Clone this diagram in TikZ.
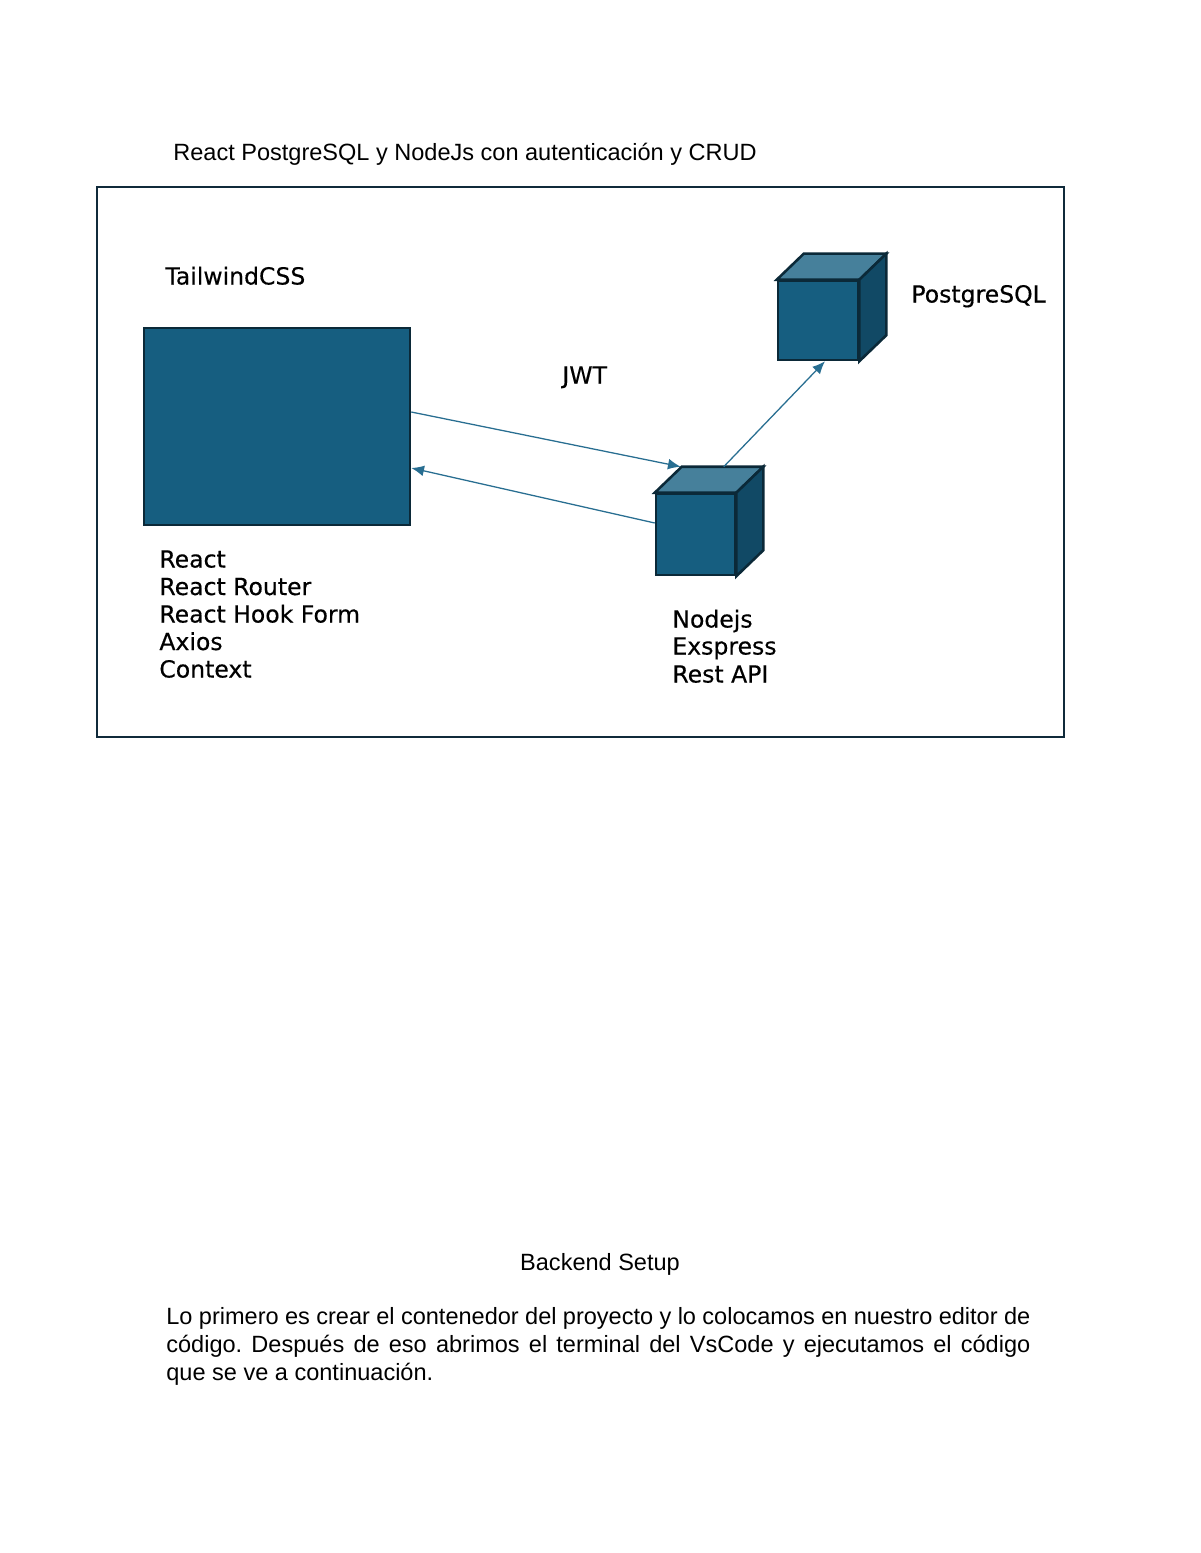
\documentclass[tikz,border=0pt]{standalone}
\usepackage{fontspec}
\setmainfont{Liberation Sans}
\newfontfamily\lblfont[FakeBold=0.35]{DejaVu Sans}
\usetikzlibrary{arrows.meta,calc}
\frenchspacing
\definecolor{facec}{RGB}{22,94,128}
\definecolor{topc}{RGB}{70,128,155}
\definecolor{sidec}{RGB}{17,73,101}
\definecolor{edgec}{RGB}{11,41,56}
\definecolor{framec}{RGB}{16,42,58}
\definecolor{arrowc}{RGB}{40,110,145}
\tikzset{
  framebox/.style={draw=framec,line width=1pt,inner sep=0pt,minimum width=493.17pt,minimum height=280.5pt},
  solidface/.style={draw=edgec,fill=facec,line width=1.3pt,inner sep=0pt},
  topface/.style={draw=edgec,fill=topc,line width=1.3pt,line join=miter},
  sideface/.style={draw=edgec,fill=sidec,line width=1.3pt,line join=miter},
  conn/.style={draw=arrowc,line width=0.65pt,-{Latex[length=6.5pt,width=5.5pt]}},
  lbl/.style={inner sep=0pt,anchor=base west,font=\lblfont\fontsize{12}{14}\selectfont},
  doc/.style={inner sep=0pt,font=\fontsize{12}{14.3}\selectfont}
}
\begin{document}
\begin{tikzpicture}[x=0.51pt,y=-0.51pt]
\useasboundingbox (0,0) rectangle (1200,1553);
\fill[white] (0,0) rectangle (1200,1553);

\node[doc,anchor=base west] (title) at (173,161) {React PostgreSQL y NodeJs con autenticación y CRUD};

\node[framebox] (frame) at (580.5,462) {};

% React block
\node[solidface,minimum width=135.66pt,minimum height=100.47pt] (react) at (277,426.5) {};

% Node cube
\node[solidface,minimum width=40.29pt,minimum height=41.31pt] (nodejs) at (695.5,534.5) {};
\draw[topface] (nodejs.north west) -- ($(nodejs.north west)+(27,-26)$) -- ($(nodejs.north east)+(27,-26)$) -- (nodejs.north east) -- cycle;
\draw[sideface] (nodejs.north east) -- ($(nodejs.north east)+(27,-26)$) -- ($(nodejs.south east)+(27,-26)$) -- (nodejs.south east) -- cycle;

% Postgres cube
\node[solidface,minimum width=40.8pt,minimum height=40.29pt] (pg) at (818,320.5) {};
\draw[topface] (pg.north west) -- ($(pg.north west)+(27,-26)$) -- ($(pg.north east)+(27,-26)$) -- (pg.north east) -- cycle;
\draw[sideface] (pg.north east) -- ($(pg.north east)+(27,-26)$) -- ($(pg.south east)+(27,-26)$) -- (pg.south east) -- cycle;

% connector end points
\coordinate (r1) at ($(react.east)+(0,-14.5)$);
\coordinate (r2) at ($(react.east)+(0,41.5)$);
\coordinate (n1) at ($(nodejs.north west)+(26,-26)$);
\coordinate (n2) at ($(nodejs.west)+(0,-11.5)$);
\coordinate (n3) at ($(nodejs.north west)+(69,-26)$);
\coordinate (p1) at ($(pg.south)+(7,0)$);

\draw[conn] (r1) -- (n1);
\draw[conn] (n2) -- (r2);
\draw[conn] (n3) -- (p1);

% labels
\node[lbl] (tw) at (165,284.5) {TailwindCSS};
\node[lbl] (jwt) at (562,383.5) {JWT};
\node[lbl] (pglbl) at (911,302.5) {PostgreSQL};

\node[lbl] (l1) at (159,567.5) {React};
\node[lbl] (l2) at (159,595) {React Router};
\node[lbl] (l3) at (159,622.5) {React Hook Form};
\node[lbl] (l4) at (159,650) {Axios};
\node[lbl] (l5) at (159,677.5) {Context};

\node[lbl] (m1) at (672,627.5) {Nodejs};
\node[lbl] (m2) at (672,654.5) {Exspress};
\node[lbl] (m3) at (672,682.5) {Rest API};

% text below
\node[doc,anchor=base] (setup) at (600,1270) {Backend Setup};
\node[doc,anchor=base west,text width=440.6pt,align=justify] (para) at (166,1324.5)
 {\hyphenpenalty=10000 \emergencystretch=20pt Lo primero es crear el contenedor del proyecto y lo colocamos en nuestro editor de\linebreak código. Después de eso abrimos el terminal del VsCode y ejecutamos el código\linebreak que se ve a continuación.};
\end{tikzpicture}
\end{document}
